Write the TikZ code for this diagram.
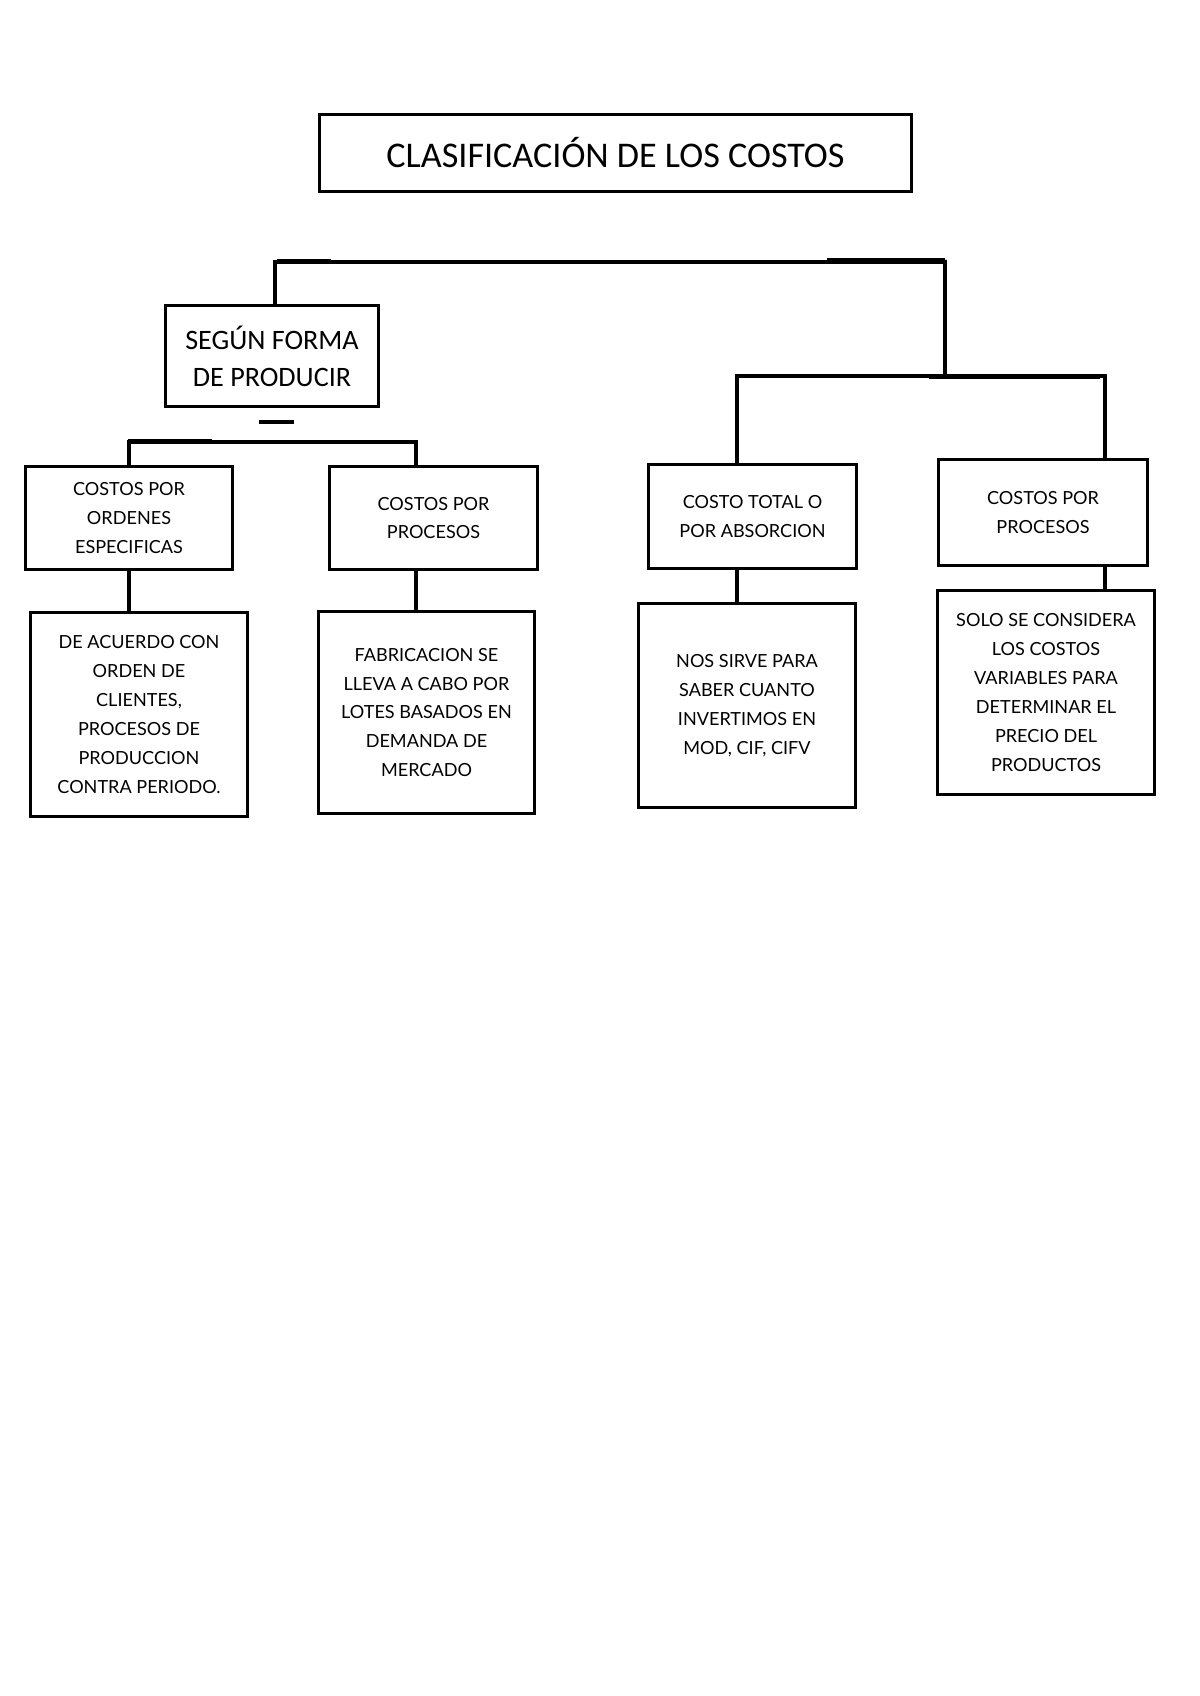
\documentclass[tikz,border=0pt]{standalone}
\usepackage{fontspec}
\setmainfont{Lato}
\newfontfamily\calibri{Carlito}
\newcommand\pxl{0.4961pt}
\begin{document}
\begin{tikzpicture}[x=0.0175cm,y=-0.0175cm]
\tikzstyle{every node}+=[inner sep=0pt]
\tikzstyle{caja}=[draw=black,line width=1.5pt,rectangle,align=center,font=\fontsize{9}{14.4}\selectfont]
\tikzstyle{linea}=[draw=black,line width=1.6pt]
\useasboundingbox (0,0) rectangle (1200,1696);
% cajas
\node [caja,minimum width=595*\pxl,minimum height=78*\pxl,font=\calibri\fontsize{18}{22}\selectfont] (titulo) at (615.5,153) {CLASIFICACIÓN DE LOS COSTOS};
\node [caja,minimum width=214*\pxl,minimum height=102*\pxl,font=\calibri\fontsize{14}{18.3}\selectfont] (forma) at (272,356) {SEGÚN FORMA\\DE PRODUCIR};
\node [caja,minimum width=208*\pxl,minimum height=104*\pxl] (ordenes) at (129,518) {COSTOS POR\\ORDENES\\ESPECIFICAS};
\node [caja,minimum width=209*\pxl,minimum height=104*\pxl] (procesos) at (433.5,518) {COSTOS POR\\PROCESOS};
\node [caja,minimum width=209*\pxl,minimum height=105*\pxl] (total) at (752.5,516.5) {COSTO TOTAL O\\POR ABSORCION};
\node [caja,minimum width=210*\pxl,minimum height=107*\pxl] (procesosb) at (1043,512.5) {COSTOS POR\\PROCESOS};
\node [caja,minimum width=218*\pxl,minimum height=205*\pxl] (acuerdo) at (139,714.5) {DE ACUERDO CON\\ORDEN DE\\CLIENTES,\\PROCESOS DE\\PRODUCCION\\CONTRA PERIODO.};
\node [caja,minimum width=217*\pxl,minimum height=203*\pxl] (fabrica) at (426.5,712.5) {FABRICACION SE\\LLEVA A CABO POR\\LOTES BASADOS EN\\DEMANDA DE\\MERCADO};
\node [caja,minimum width=218*\pxl,minimum height=205*\pxl] (sirve) at (747,705.5) {NOS SIRVE PARA\\SABER CUANTO\\INVERTIMOS EN\\MOD, CIF, CIFV};
\node [caja,minimum width=218*\pxl,minimum height=205*\pxl] (solo) at (1046,692.5) {SOLO SE CONSIDERA\\LOS COSTOS\\VARIABLES PARA\\DETERMINAR EL\\PRECIO DEL\\PRODUCTOS};
% uniones
\coordinate (arribaI) at (275,262);
\coordinate (arribaD) at (945,260);
\coordinate (medioI) at (737,376);
\coordinate (medioD) at (1105,376);
\coordinate (bajoI) at (129,442);
\coordinate (bajoD) at (416,442);
\coordinate (guionA) at (259,422);
\coordinate (guionB) at (294,422);
\draw [linea] (arribaI |- forma.north) -- (arribaI) -- (arribaI -| arribaD) -- (arribaD) -- (arribaD |- medioD);
\draw [linea] (medioI |- total.north) -- (medioI) -- (medioD) -- (medioD |- procesosb.north);
\draw [linea] (guionA) -- (guionB);
\draw [linea] (bajoI |- ordenes.north) -- (bajoI) -- (bajoD) -- (bajoD |- procesos.north);
\draw [linea] (bajoI |- ordenes.south) -- (bajoI |- acuerdo.north);
\draw [linea] (bajoD |- procesos.south) -- (bajoD |- fabrica.north);
\draw [linea,line width=2.2pt] (medioI |- total.south) -- (medioI |- sirve.north);
\draw [linea] (medioD |- procesosb.south) -- (medioD |- solo.north);
% trazos dobles
\draw [linea,line width=2.2pt] (277,261) -- (331,261);
\draw [linea,line width=2.2pt] (827,260.5) -- (945,260.5);
\draw [linea,line width=2.2pt] (929,376.5) -- (1100,376.5);
\draw [linea,line width=2.2pt] (128,441.5) -- (212,441.5);
\end{tikzpicture}
\end{document}
